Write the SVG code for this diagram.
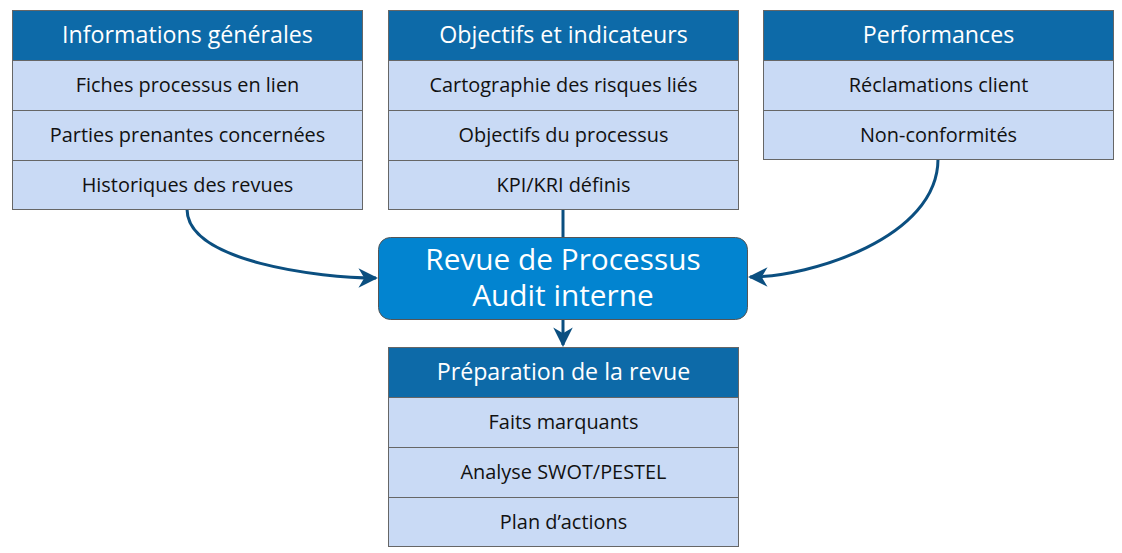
<svg xmlns="http://www.w3.org/2000/svg" width="1122" height="553" viewBox="0 0 1122 553">
<style>
.hd{fill:#0D6AA8;stroke:#666;stroke-width:1}
.row{fill:#C9DAF5;stroke:#666;stroke-width:1}
.ht{font-family:"Open Sans",sans-serif;font-size:23.2px;fill:#fff;text-anchor:middle}
.rt{font-family:"Open Sans",sans-serif;font-size:19.9px;fill:#111;text-anchor:middle}
.ct{font-family:"Open Sans",sans-serif;font-size:29.8px;fill:#fff;text-anchor:middle}
.cn{fill:none;stroke:#0B4F80;stroke-width:3}
</style>
<defs>
<marker id="ar" viewBox="0 0 10 10" refX="9" refY="5" markerWidth="6.5" markerHeight="6.5" markerUnits="strokeWidth" orient="auto">
<path d="M0,0 L10,5 L0,10 L3,5 Z" fill="#0B4F80"/>
</marker>
</defs>
<g id="connectors">
<path class="cn" d="M187,209 C187,262 320,278 376,278" marker-end="url(#ar)"/>
<path class="cn" d="M938,159 C938,238 810,277 750,277" marker-end="url(#ar)"/>
<path class="cn" d="M563,209 L563,237"/>
<path class="cn" d="M563,319 L563,345" marker-end="url(#ar)"/>
</g>
<g id="info">
<rect class="hd" x="12.5" y="10.5" width="350" height="50"/>
<text class="ht" x="187.5" y="43">Informations générales</text>
<rect class="row" x="12.5" y="60.5" width="350" height="50"/>
<text class="rt" x="187.5" y="92">Fiches processus en lien</text>
<rect class="row" x="12.5" y="110.5" width="350" height="50"/>
<text class="rt" x="187.5" y="142">Parties prenantes concernées</text>
<rect class="row" x="12.5" y="160.5" width="350" height="49"/>
<text class="rt" x="187.5" y="192">Historiques des revues</text>
</g>
<g id="objectifs">
<rect class="hd" x="388.5" y="10.5" width="350" height="50"/>
<text class="ht" x="563.5" y="43">Objectifs et indicateurs</text>
<rect class="row" x="388.5" y="60.5" width="350" height="50"/>
<text class="rt" x="563.5" y="92">Cartographie des risques liés</text>
<rect class="row" x="388.5" y="110.5" width="350" height="50"/>
<text class="rt" x="563.5" y="142">Objectifs du processus</text>
<rect class="row" x="388.5" y="160.5" width="350" height="49"/>
<text class="rt" x="563.5" y="192">KPI/KRI définis</text>
</g>
<g id="performances">
<rect class="hd" x="763.5" y="10.5" width="350" height="50"/>
<text class="ht" x="938.5" y="43">Performances</text>
<rect class="row" x="763.5" y="60.5" width="350" height="50"/>
<text class="rt" x="938.5" y="92">Réclamations client</text>
<rect class="row" x="763.5" y="110.5" width="350" height="49"/>
<text class="rt" x="938.5" y="142">Non-conformités</text>
</g>
<g id="revue">
<rect x="378.5" y="237.5" width="369" height="82" rx="12" fill="#0284D0" stroke="#555" stroke-width="1"/>
<text class="ct"><tspan x="563" y="270">Revue de Processus</tspan><tspan x="563" y="306">Audit interne</tspan></text>
</g>
<g id="preparation">
<rect class="hd" x="388.5" y="347.5" width="350" height="50"/>
<text class="ht" x="563.5" y="380">Préparation de la revue</text>
<rect class="row" x="388.5" y="397.5" width="350" height="50"/>
<text class="rt" x="563.5" y="429">Faits marquants</text>
<rect class="row" x="388.5" y="447.5" width="350" height="50"/>
<text class="rt" x="563.5" y="479">Analyse SWOT/PESTEL</text>
<rect class="row" x="388.5" y="497.5" width="350" height="49"/>
<text class="rt" x="563.5" y="529">Plan d’actions</text>
</g>
</svg>
